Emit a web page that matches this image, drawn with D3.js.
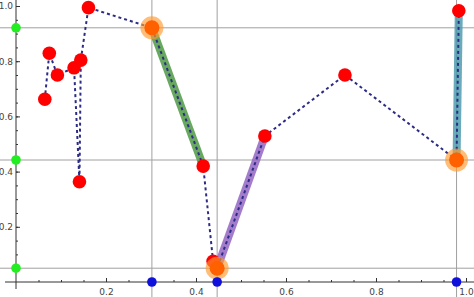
<!DOCTYPE html>
<html>
<head>
<meta charset="utf-8">
<script src="https://cdn.jsdelivr.net/npm/d3@7"></script>
<style>
  body { margin: 0; background: #fff; }
  svg { display: block; }
  .tick text { font-family: "DejaVu Sans", sans-serif; font-size: 9px; fill: #444; }
</style>
</head>
<body>
<svg id="chart" width="474" height="297"></svg>
<script>
// path of points, ordered by x
const pathX = [0.064, 0.074, 0.092, 0.129, 0.141, 0.144, 0.161, 0.302, 0.416, 0.438, 0.447, 0.553, 0.731, 0.979, 0.984];
const pathY = [0.662, 0.829, 0.750, 0.776, 0.363, 0.804, 0.994, 0.921, 0.420, 0.075, 0.050, 0.529, 0.750, 0.442, 0.983];

// highlighted points (orange) and the index of the next point they link to
const hiX = [0.302, 0.447, 0.979];
const hiY = [0.921, 0.050, 0.442];
const hiNext = [8, 11, 14];
const segColors = ["#4f9a45", "#9466c2", "#4f9cb0"];

const xTicks = [0.2, 0.4, 0.6, 0.8, 1.0];
const yTicks = [0.2, 0.4, 0.6, 0.8, 1.0];

const svg = d3.select("#chart");
const x = d3.scaleLinear().domain([0, 1]).range([16, 466]);
const y = d3.scaleLinear().domain([0, 1]).range([282, 6]);

// grid lines through highlighted points
const grid = svg.append("g").attr("stroke", "#a0a0a0").attr("stroke-width", 1);
hiX.forEach(v => grid.append("line")
  .attr("x1", x(v)).attr("x2", x(v)).attr("y1", 0).attr("y2", 297));
hiY.forEach(v => grid.append("line")
  .attr("x1", 0).attr("x2", 474).attr("y1", y(v)).attr("y2", y(v)));

// axes, Mathematica style ticks pointing inward
const minor = d3.range(0.05, 1.001, 0.05);
const xAxis = svg.append("g").attr("transform", `translate(0,${y(0)})`);
xAxis.call(d3.axisTop(x).tickValues(minor).tickSize(2).tickFormat(""));
xAxis.append("g").call(d3.axisTop(x).tickValues(xTicks).tickSize(4).tickFormat(d3.format(".1f")));
xAxis.selectAll(".domain").remove();
xAxis.selectAll(".tick text").attr("y", 13).attr("dy", 0);
xAxis.append("line").attr("x1", 5).attr("x2", 474).attr("stroke", "#333");

const yAxis = svg.append("g").attr("transform", `translate(${x(0)},0)`);
yAxis.call(d3.axisRight(y).tickValues(minor).tickSize(2).tickFormat(""));
yAxis.append("g").call(d3.axisRight(y).tickValues(yTicks).tickSize(4).tickFormat(d3.format(".1f")));
yAxis.selectAll(".domain").remove();
yAxis.selectAll(".tick text").attr("x", -3).attr("text-anchor", "end");
yAxis.append("line").attr("y1", 0).attr("y2", 289).attr("stroke", "#333");
svg.selectAll(".tick line").attr("stroke", "#333");

// thick segments from highlighted points
hiX.forEach((v, i) => {
  svg.append("line")
    .attr("x1", x(v)).attr("y1", y(hiY[i]))
    .attr("x2", x(pathX[hiNext[i]])).attr("y2", y(pathY[hiNext[i]]))
    .attr("stroke", segColors[i]).attr("stroke-width", 8)
    .attr("opacity", 0.85);
});

// dashed path
const pts = pathX.map((v, i) => [v, pathY[i]]);
svg.append("path")
  .attr("d", d3.line().x(d => x(d[0])).y(d => y(d[1]))(pts))
  .attr("fill", "none").attr("stroke", "#2c2c86")
  .attr("stroke-width", 2).attr("stroke-dasharray", "3,3");

// red points
svg.append("g").selectAll("circle").data(pts).enter().append("circle")
  .attr("cx", d => x(d[0])).attr("cy", d => y(d[1])).attr("r", 6.8)
  .attr("fill", "#ff0000");

// orange highlighted points with halo
hiX.forEach((v, i) => {
  svg.append("circle").attr("cx", x(v)).attr("cy", y(hiY[i])).attr("r", 11.5)
    .attr("fill", "#ff9a30").attr("opacity", 0.65);
  svg.append("circle").attr("cx", x(v)).attr("cy", y(hiY[i])).attr("r", 7.5)
    .attr("fill", "#ff6000");
});

// projections on the axes
svg.append("g").selectAll("circle").data(hiY).enter().append("circle")
  .attr("cx", x(0)).attr("cy", d => y(d)).attr("r", 4.8).attr("fill", "#22ee22");
svg.append("g").selectAll("circle").data(hiX).enter().append("circle")
  .attr("cx", d => x(d)).attr("cy", y(0)).attr("r", 4.8).attr("fill", "#1010dd");
</script>
</body>
</html>
